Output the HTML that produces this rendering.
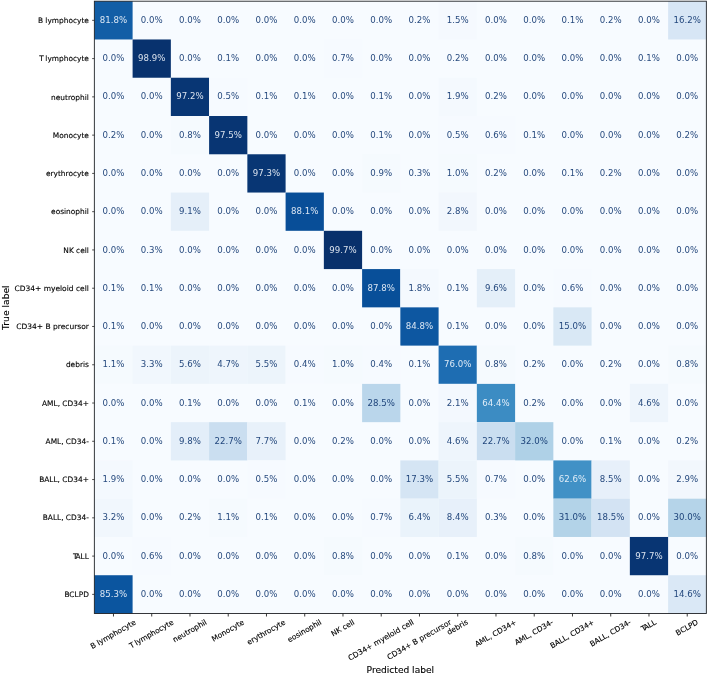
<!DOCTYPE html>
<html lang="en"><head><meta charset="utf-8"><title>Confusion matrix</title>
<style>
html,body{margin:0;padding:0;background:#fff;}
body{width:708px;height:674px;overflow:hidden;}
svg{display:block;font-family:"DejaVu Sans","Liberation Sans",sans-serif;}
</style></head><body>
<svg width="708" height="674" viewBox="0 0 708 674">
<rect width="708" height="674" fill="#fff"/>
<rect x="94.35" y="1.20" width="612.00" height="612.30" fill="#f7fbff"/>
<g shape-rendering="auto">
<rect x="94.35" y="1.20" width="38.25" height="38.27" fill="#125ea6"/>
<rect x="438.60" y="1.20" width="38.25" height="38.27" fill="#f5f9fe"/>
<rect x="668.10" y="1.20" width="38.25" height="38.27" fill="#d7e6f5"/>
<rect x="132.60" y="39.47" width="38.25" height="38.27" fill="#08326e"/>
<rect x="323.85" y="39.47" width="38.25" height="38.27" fill="#f6faff"/>
<rect x="170.85" y="77.74" width="38.25" height="38.27" fill="#083674"/>
<rect x="209.10" y="77.74" width="38.25" height="38.27" fill="#f6faff"/>
<rect x="438.60" y="77.74" width="38.25" height="38.27" fill="#f4f9fe"/>
<rect x="170.85" y="116.01" width="38.25" height="38.27" fill="#f5fafe"/>
<rect x="209.10" y="116.01" width="38.25" height="38.27" fill="#083573"/>
<rect x="438.60" y="116.01" width="38.25" height="38.27" fill="#f6faff"/>
<rect x="476.85" y="116.01" width="38.25" height="38.27" fill="#f6faff"/>
<rect x="247.35" y="154.27" width="38.25" height="38.27" fill="#083674"/>
<rect x="362.10" y="154.27" width="38.25" height="38.27" fill="#f5fafe"/>
<rect x="438.60" y="154.27" width="38.25" height="38.27" fill="#f5fafe"/>
<rect x="170.85" y="192.54" width="38.25" height="38.27" fill="#e5eff9"/>
<rect x="285.60" y="192.54" width="38.25" height="38.27" fill="#084e98"/>
<rect x="438.60" y="192.54" width="38.25" height="38.27" fill="#f2f7fd"/>
<rect x="323.85" y="230.81" width="38.25" height="38.27" fill="#08306b"/>
<rect x="362.10" y="269.08" width="38.25" height="38.27" fill="#084f99"/>
<rect x="400.35" y="269.08" width="38.25" height="38.27" fill="#f4f9fe"/>
<rect x="476.85" y="269.08" width="38.25" height="38.27" fill="#e4eff9"/>
<rect x="553.35" y="269.08" width="38.25" height="38.27" fill="#f6faff"/>
<rect x="400.35" y="307.35" width="38.25" height="38.27" fill="#0d57a1"/>
<rect x="553.35" y="307.35" width="38.25" height="38.27" fill="#d9e8f5"/>
<rect x="94.35" y="345.62" width="38.25" height="38.27" fill="#f5fafe"/>
<rect x="132.60" y="345.62" width="38.25" height="38.27" fill="#f1f7fd"/>
<rect x="170.85" y="345.62" width="38.25" height="38.27" fill="#ecf4fb"/>
<rect x="209.10" y="345.62" width="38.25" height="38.27" fill="#eef5fc"/>
<rect x="247.35" y="345.62" width="38.25" height="38.27" fill="#ecf4fb"/>
<rect x="285.60" y="345.62" width="38.25" height="38.27" fill="#f6faff"/>
<rect x="323.85" y="345.62" width="38.25" height="38.27" fill="#f5fafe"/>
<rect x="362.10" y="345.62" width="38.25" height="38.27" fill="#f6faff"/>
<rect x="438.60" y="345.62" width="38.25" height="38.27" fill="#1e6db2"/>
<rect x="476.85" y="345.62" width="38.25" height="38.27" fill="#f5fafe"/>
<rect x="668.10" y="345.62" width="38.25" height="38.27" fill="#f5fafe"/>
<rect x="362.10" y="383.89" width="38.25" height="38.27" fill="#bad6eb"/>
<rect x="438.60" y="383.89" width="38.25" height="38.27" fill="#f3f8fe"/>
<rect x="476.85" y="383.89" width="38.25" height="38.27" fill="#3c8cc3"/>
<rect x="629.85" y="383.89" width="38.25" height="38.27" fill="#eef5fc"/>
<rect x="170.85" y="422.16" width="38.25" height="38.27" fill="#e3eef9"/>
<rect x="209.10" y="422.16" width="38.25" height="38.27" fill="#cadef0"/>
<rect x="247.35" y="422.16" width="38.25" height="38.27" fill="#e8f1fa"/>
<rect x="438.60" y="422.16" width="38.25" height="38.27" fill="#eef5fc"/>
<rect x="476.85" y="422.16" width="38.25" height="38.27" fill="#cadef0"/>
<rect x="515.10" y="422.16" width="38.25" height="38.27" fill="#afd1e7"/>
<rect x="94.35" y="460.42" width="38.25" height="38.27" fill="#f4f9fe"/>
<rect x="247.35" y="460.42" width="38.25" height="38.27" fill="#f6faff"/>
<rect x="400.35" y="460.42" width="38.25" height="38.27" fill="#d5e5f4"/>
<rect x="438.60" y="460.42" width="38.25" height="38.27" fill="#ecf4fb"/>
<rect x="476.85" y="460.42" width="38.25" height="38.27" fill="#f6faff"/>
<rect x="553.35" y="460.42" width="38.25" height="38.27" fill="#4191c6"/>
<rect x="591.60" y="460.42" width="38.25" height="38.27" fill="#e7f0fa"/>
<rect x="668.10" y="460.42" width="38.25" height="38.27" fill="#f2f7fd"/>
<rect x="94.35" y="498.69" width="38.25" height="38.27" fill="#f1f7fd"/>
<rect x="209.10" y="498.69" width="38.25" height="38.27" fill="#f5fafe"/>
<rect x="362.10" y="498.69" width="38.25" height="38.27" fill="#f6faff"/>
<rect x="400.35" y="498.69" width="38.25" height="38.27" fill="#eaf3fb"/>
<rect x="438.60" y="498.69" width="38.25" height="38.27" fill="#e7f0fa"/>
<rect x="553.35" y="498.69" width="38.25" height="38.27" fill="#b3d3e8"/>
<rect x="591.60" y="498.69" width="38.25" height="38.27" fill="#d3e3f3"/>
<rect x="668.10" y="498.69" width="38.25" height="38.27" fill="#b5d4e9"/>
<rect x="132.60" y="536.96" width="38.25" height="38.27" fill="#f6faff"/>
<rect x="323.85" y="536.96" width="38.25" height="38.27" fill="#f5fafe"/>
<rect x="515.10" y="536.96" width="38.25" height="38.27" fill="#f5fafe"/>
<rect x="629.85" y="536.96" width="38.25" height="38.27" fill="#083573"/>
<rect x="94.35" y="575.23" width="38.25" height="38.27" fill="#0b559f"/>
<rect x="668.10" y="575.23" width="38.25" height="38.27" fill="#dae8f6"/>
</g>
<g font-size="8.60" text-anchor="middle" fill-opacity="0.88">
<text x="113.47" y="22.95" fill="#f7fbff">81.8%</text>
<text x="151.72" y="22.95" fill="#08306b">0.0%</text>
<text x="189.97" y="22.95" fill="#08306b">0.0%</text>
<text x="228.22" y="22.95" fill="#08306b">0.0%</text>
<text x="266.48" y="22.95" fill="#08306b">0.0%</text>
<text x="304.73" y="22.95" fill="#08306b">0.0%</text>
<text x="342.98" y="22.95" fill="#08306b">0.0%</text>
<text x="381.23" y="22.95" fill="#08306b">0.0%</text>
<text x="419.48" y="22.95" fill="#08306b">0.2%</text>
<text x="457.73" y="22.95" fill="#08306b">1.5%</text>
<text x="495.98" y="22.95" fill="#08306b">0.0%</text>
<text x="534.23" y="22.95" fill="#08306b">0.0%</text>
<text x="572.48" y="22.95" fill="#08306b">0.1%</text>
<text x="610.73" y="22.95" fill="#08306b">0.2%</text>
<text x="648.98" y="22.95" fill="#08306b">0.0%</text>
<text x="687.23" y="22.95" fill="#08306b">16.2%</text>
<text x="113.47" y="61.22" fill="#08306b">0.0%</text>
<text x="151.72" y="61.22" fill="#f7fbff">98.9%</text>
<text x="189.97" y="61.22" fill="#08306b">0.0%</text>
<text x="228.22" y="61.22" fill="#08306b">0.1%</text>
<text x="266.48" y="61.22" fill="#08306b">0.0%</text>
<text x="304.73" y="61.22" fill="#08306b">0.0%</text>
<text x="342.98" y="61.22" fill="#08306b">0.7%</text>
<text x="381.23" y="61.22" fill="#08306b">0.0%</text>
<text x="419.48" y="61.22" fill="#08306b">0.0%</text>
<text x="457.73" y="61.22" fill="#08306b">0.2%</text>
<text x="495.98" y="61.22" fill="#08306b">0.0%</text>
<text x="534.23" y="61.22" fill="#08306b">0.0%</text>
<text x="572.48" y="61.22" fill="#08306b">0.0%</text>
<text x="610.73" y="61.22" fill="#08306b">0.0%</text>
<text x="648.98" y="61.22" fill="#08306b">0.1%</text>
<text x="687.23" y="61.22" fill="#08306b">0.0%</text>
<text x="113.47" y="99.49" fill="#08306b">0.0%</text>
<text x="151.72" y="99.49" fill="#08306b">0.0%</text>
<text x="189.97" y="99.49" fill="#f7fbff">97.2%</text>
<text x="228.22" y="99.49" fill="#08306b">0.5%</text>
<text x="266.48" y="99.49" fill="#08306b">0.1%</text>
<text x="304.73" y="99.49" fill="#08306b">0.1%</text>
<text x="342.98" y="99.49" fill="#08306b">0.0%</text>
<text x="381.23" y="99.49" fill="#08306b">0.1%</text>
<text x="419.48" y="99.49" fill="#08306b">0.0%</text>
<text x="457.73" y="99.49" fill="#08306b">1.9%</text>
<text x="495.98" y="99.49" fill="#08306b">0.2%</text>
<text x="534.23" y="99.49" fill="#08306b">0.0%</text>
<text x="572.48" y="99.49" fill="#08306b">0.0%</text>
<text x="610.73" y="99.49" fill="#08306b">0.0%</text>
<text x="648.98" y="99.49" fill="#08306b">0.0%</text>
<text x="687.23" y="99.49" fill="#08306b">0.0%</text>
<text x="113.47" y="137.76" fill="#08306b">0.2%</text>
<text x="151.72" y="137.76" fill="#08306b">0.0%</text>
<text x="189.97" y="137.76" fill="#08306b">0.8%</text>
<text x="228.22" y="137.76" fill="#f7fbff">97.5%</text>
<text x="266.48" y="137.76" fill="#08306b">0.0%</text>
<text x="304.73" y="137.76" fill="#08306b">0.0%</text>
<text x="342.98" y="137.76" fill="#08306b">0.0%</text>
<text x="381.23" y="137.76" fill="#08306b">0.1%</text>
<text x="419.48" y="137.76" fill="#08306b">0.0%</text>
<text x="457.73" y="137.76" fill="#08306b">0.5%</text>
<text x="495.98" y="137.76" fill="#08306b">0.6%</text>
<text x="534.23" y="137.76" fill="#08306b">0.1%</text>
<text x="572.48" y="137.76" fill="#08306b">0.0%</text>
<text x="610.73" y="137.76" fill="#08306b">0.0%</text>
<text x="648.98" y="137.76" fill="#08306b">0.0%</text>
<text x="687.23" y="137.76" fill="#08306b">0.2%</text>
<text x="113.47" y="176.03" fill="#08306b">0.0%</text>
<text x="151.72" y="176.03" fill="#08306b">0.0%</text>
<text x="189.97" y="176.03" fill="#08306b">0.0%</text>
<text x="228.22" y="176.03" fill="#08306b">0.0%</text>
<text x="266.48" y="176.03" fill="#f7fbff">97.3%</text>
<text x="304.73" y="176.03" fill="#08306b">0.0%</text>
<text x="342.98" y="176.03" fill="#08306b">0.0%</text>
<text x="381.23" y="176.03" fill="#08306b">0.9%</text>
<text x="419.48" y="176.03" fill="#08306b">0.3%</text>
<text x="457.73" y="176.03" fill="#08306b">1.0%</text>
<text x="495.98" y="176.03" fill="#08306b">0.2%</text>
<text x="534.23" y="176.03" fill="#08306b">0.0%</text>
<text x="572.48" y="176.03" fill="#08306b">0.1%</text>
<text x="610.73" y="176.03" fill="#08306b">0.2%</text>
<text x="648.98" y="176.03" fill="#08306b">0.0%</text>
<text x="687.23" y="176.03" fill="#08306b">0.0%</text>
<text x="113.47" y="214.30" fill="#08306b">0.0%</text>
<text x="151.72" y="214.30" fill="#08306b">0.0%</text>
<text x="189.97" y="214.30" fill="#08306b">9.1%</text>
<text x="228.22" y="214.30" fill="#08306b">0.0%</text>
<text x="266.48" y="214.30" fill="#08306b">0.0%</text>
<text x="304.73" y="214.30" fill="#f7fbff">88.1%</text>
<text x="342.98" y="214.30" fill="#08306b">0.0%</text>
<text x="381.23" y="214.30" fill="#08306b">0.0%</text>
<text x="419.48" y="214.30" fill="#08306b">0.0%</text>
<text x="457.73" y="214.30" fill="#08306b">2.8%</text>
<text x="495.98" y="214.30" fill="#08306b">0.0%</text>
<text x="534.23" y="214.30" fill="#08306b">0.0%</text>
<text x="572.48" y="214.30" fill="#08306b">0.0%</text>
<text x="610.73" y="214.30" fill="#08306b">0.0%</text>
<text x="648.98" y="214.30" fill="#08306b">0.0%</text>
<text x="687.23" y="214.30" fill="#08306b">0.0%</text>
<text x="113.47" y="252.57" fill="#08306b">0.0%</text>
<text x="151.72" y="252.57" fill="#08306b">0.3%</text>
<text x="189.97" y="252.57" fill="#08306b">0.0%</text>
<text x="228.22" y="252.57" fill="#08306b">0.0%</text>
<text x="266.48" y="252.57" fill="#08306b">0.0%</text>
<text x="304.73" y="252.57" fill="#08306b">0.0%</text>
<text x="342.98" y="252.57" fill="#f7fbff">99.7%</text>
<text x="381.23" y="252.57" fill="#08306b">0.0%</text>
<text x="419.48" y="252.57" fill="#08306b">0.0%</text>
<text x="457.73" y="252.57" fill="#08306b">0.0%</text>
<text x="495.98" y="252.57" fill="#08306b">0.0%</text>
<text x="534.23" y="252.57" fill="#08306b">0.0%</text>
<text x="572.48" y="252.57" fill="#08306b">0.0%</text>
<text x="610.73" y="252.57" fill="#08306b">0.0%</text>
<text x="648.98" y="252.57" fill="#08306b">0.0%</text>
<text x="687.23" y="252.57" fill="#08306b">0.0%</text>
<text x="113.47" y="290.84" fill="#08306b">0.1%</text>
<text x="151.72" y="290.84" fill="#08306b">0.1%</text>
<text x="189.97" y="290.84" fill="#08306b">0.0%</text>
<text x="228.22" y="290.84" fill="#08306b">0.0%</text>
<text x="266.48" y="290.84" fill="#08306b">0.0%</text>
<text x="304.73" y="290.84" fill="#08306b">0.0%</text>
<text x="342.98" y="290.84" fill="#08306b">0.0%</text>
<text x="381.23" y="290.84" fill="#f7fbff">87.8%</text>
<text x="419.48" y="290.84" fill="#08306b">1.8%</text>
<text x="457.73" y="290.84" fill="#08306b">0.1%</text>
<text x="495.98" y="290.84" fill="#08306b">9.6%</text>
<text x="534.23" y="290.84" fill="#08306b">0.0%</text>
<text x="572.48" y="290.84" fill="#08306b">0.6%</text>
<text x="610.73" y="290.84" fill="#08306b">0.0%</text>
<text x="648.98" y="290.84" fill="#08306b">0.0%</text>
<text x="687.23" y="290.84" fill="#08306b">0.0%</text>
<text x="113.47" y="329.10" fill="#08306b">0.1%</text>
<text x="151.72" y="329.10" fill="#08306b">0.0%</text>
<text x="189.97" y="329.10" fill="#08306b">0.0%</text>
<text x="228.22" y="329.10" fill="#08306b">0.0%</text>
<text x="266.48" y="329.10" fill="#08306b">0.0%</text>
<text x="304.73" y="329.10" fill="#08306b">0.0%</text>
<text x="342.98" y="329.10" fill="#08306b">0.0%</text>
<text x="381.23" y="329.10" fill="#08306b">0.0%</text>
<text x="419.48" y="329.10" fill="#f7fbff">84.8%</text>
<text x="457.73" y="329.10" fill="#08306b">0.1%</text>
<text x="495.98" y="329.10" fill="#08306b">0.0%</text>
<text x="534.23" y="329.10" fill="#08306b">0.0%</text>
<text x="572.48" y="329.10" fill="#08306b">15.0%</text>
<text x="610.73" y="329.10" fill="#08306b">0.0%</text>
<text x="648.98" y="329.10" fill="#08306b">0.0%</text>
<text x="687.23" y="329.10" fill="#08306b">0.0%</text>
<text x="113.47" y="367.37" fill="#08306b">1.1%</text>
<text x="151.72" y="367.37" fill="#08306b">3.3%</text>
<text x="189.97" y="367.37" fill="#08306b">5.6%</text>
<text x="228.22" y="367.37" fill="#08306b">4.7%</text>
<text x="266.48" y="367.37" fill="#08306b">5.5%</text>
<text x="304.73" y="367.37" fill="#08306b">0.4%</text>
<text x="342.98" y="367.37" fill="#08306b">1.0%</text>
<text x="381.23" y="367.37" fill="#08306b">0.4%</text>
<text x="419.48" y="367.37" fill="#08306b">0.1%</text>
<text x="457.73" y="367.37" fill="#f7fbff">76.0%</text>
<text x="495.98" y="367.37" fill="#08306b">0.8%</text>
<text x="534.23" y="367.37" fill="#08306b">0.2%</text>
<text x="572.48" y="367.37" fill="#08306b">0.0%</text>
<text x="610.73" y="367.37" fill="#08306b">0.2%</text>
<text x="648.98" y="367.37" fill="#08306b">0.0%</text>
<text x="687.23" y="367.37" fill="#08306b">0.8%</text>
<text x="113.47" y="405.64" fill="#08306b">0.0%</text>
<text x="151.72" y="405.64" fill="#08306b">0.0%</text>
<text x="189.97" y="405.64" fill="#08306b">0.1%</text>
<text x="228.22" y="405.64" fill="#08306b">0.0%</text>
<text x="266.48" y="405.64" fill="#08306b">0.0%</text>
<text x="304.73" y="405.64" fill="#08306b">0.1%</text>
<text x="342.98" y="405.64" fill="#08306b">0.0%</text>
<text x="381.23" y="405.64" fill="#08306b">28.5%</text>
<text x="419.48" y="405.64" fill="#08306b">0.0%</text>
<text x="457.73" y="405.64" fill="#08306b">2.1%</text>
<text x="495.98" y="405.64" fill="#f7fbff">64.4%</text>
<text x="534.23" y="405.64" fill="#08306b">0.2%</text>
<text x="572.48" y="405.64" fill="#08306b">0.0%</text>
<text x="610.73" y="405.64" fill="#08306b">0.0%</text>
<text x="648.98" y="405.64" fill="#08306b">4.6%</text>
<text x="687.23" y="405.64" fill="#08306b">0.0%</text>
<text x="113.47" y="443.91" fill="#08306b">0.1%</text>
<text x="151.72" y="443.91" fill="#08306b">0.0%</text>
<text x="189.97" y="443.91" fill="#08306b">9.8%</text>
<text x="228.22" y="443.91" fill="#08306b">22.7%</text>
<text x="266.48" y="443.91" fill="#08306b">7.7%</text>
<text x="304.73" y="443.91" fill="#08306b">0.0%</text>
<text x="342.98" y="443.91" fill="#08306b">0.2%</text>
<text x="381.23" y="443.91" fill="#08306b">0.0%</text>
<text x="419.48" y="443.91" fill="#08306b">0.0%</text>
<text x="457.73" y="443.91" fill="#08306b">4.6%</text>
<text x="495.98" y="443.91" fill="#08306b">22.7%</text>
<text x="534.23" y="443.91" fill="#08306b">32.0%</text>
<text x="572.48" y="443.91" fill="#08306b">0.0%</text>
<text x="610.73" y="443.91" fill="#08306b">0.1%</text>
<text x="648.98" y="443.91" fill="#08306b">0.0%</text>
<text x="687.23" y="443.91" fill="#08306b">0.2%</text>
<text x="113.47" y="482.18" fill="#08306b">1.9%</text>
<text x="151.72" y="482.18" fill="#08306b">0.0%</text>
<text x="189.97" y="482.18" fill="#08306b">0.0%</text>
<text x="228.22" y="482.18" fill="#08306b">0.0%</text>
<text x="266.48" y="482.18" fill="#08306b">0.5%</text>
<text x="304.73" y="482.18" fill="#08306b">0.0%</text>
<text x="342.98" y="482.18" fill="#08306b">0.0%</text>
<text x="381.23" y="482.18" fill="#08306b">0.0%</text>
<text x="419.48" y="482.18" fill="#08306b">17.3%</text>
<text x="457.73" y="482.18" fill="#08306b">5.5%</text>
<text x="495.98" y="482.18" fill="#08306b">0.7%</text>
<text x="534.23" y="482.18" fill="#08306b">0.0%</text>
<text x="572.48" y="482.18" fill="#f7fbff">62.6%</text>
<text x="610.73" y="482.18" fill="#08306b">8.5%</text>
<text x="648.98" y="482.18" fill="#08306b">0.0%</text>
<text x="687.23" y="482.18" fill="#08306b">2.9%</text>
<text x="113.47" y="520.45" fill="#08306b">3.2%</text>
<text x="151.72" y="520.45" fill="#08306b">0.0%</text>
<text x="189.97" y="520.45" fill="#08306b">0.2%</text>
<text x="228.22" y="520.45" fill="#08306b">1.1%</text>
<text x="266.48" y="520.45" fill="#08306b">0.1%</text>
<text x="304.73" y="520.45" fill="#08306b">0.0%</text>
<text x="342.98" y="520.45" fill="#08306b">0.0%</text>
<text x="381.23" y="520.45" fill="#08306b">0.7%</text>
<text x="419.48" y="520.45" fill="#08306b">6.4%</text>
<text x="457.73" y="520.45" fill="#08306b">8.4%</text>
<text x="495.98" y="520.45" fill="#08306b">0.3%</text>
<text x="534.23" y="520.45" fill="#08306b">0.0%</text>
<text x="572.48" y="520.45" fill="#08306b">31.0%</text>
<text x="610.73" y="520.45" fill="#08306b">18.5%</text>
<text x="648.98" y="520.45" fill="#08306b">0.0%</text>
<text x="687.23" y="520.45" fill="#08306b">30.0%</text>
<text x="113.47" y="558.72" fill="#08306b">0.0%</text>
<text x="151.72" y="558.72" fill="#08306b">0.6%</text>
<text x="189.97" y="558.72" fill="#08306b">0.0%</text>
<text x="228.22" y="558.72" fill="#08306b">0.0%</text>
<text x="266.48" y="558.72" fill="#08306b">0.0%</text>
<text x="304.73" y="558.72" fill="#08306b">0.0%</text>
<text x="342.98" y="558.72" fill="#08306b">0.8%</text>
<text x="381.23" y="558.72" fill="#08306b">0.0%</text>
<text x="419.48" y="558.72" fill="#08306b">0.0%</text>
<text x="457.73" y="558.72" fill="#08306b">0.1%</text>
<text x="495.98" y="558.72" fill="#08306b">0.0%</text>
<text x="534.23" y="558.72" fill="#08306b">0.8%</text>
<text x="572.48" y="558.72" fill="#08306b">0.0%</text>
<text x="610.73" y="558.72" fill="#08306b">0.0%</text>
<text x="648.98" y="558.72" fill="#f7fbff">97.7%</text>
<text x="687.23" y="558.72" fill="#08306b">0.0%</text>
<text x="113.47" y="596.99" fill="#f7fbff">85.3%</text>
<text x="151.72" y="596.99" fill="#08306b">0.0%</text>
<text x="189.97" y="596.99" fill="#08306b">0.0%</text>
<text x="228.22" y="596.99" fill="#08306b">0.0%</text>
<text x="266.48" y="596.99" fill="#08306b">0.0%</text>
<text x="304.73" y="596.99" fill="#08306b">0.0%</text>
<text x="342.98" y="596.99" fill="#08306b">0.0%</text>
<text x="381.23" y="596.99" fill="#08306b">0.0%</text>
<text x="419.48" y="596.99" fill="#08306b">0.0%</text>
<text x="457.73" y="596.99" fill="#08306b">0.0%</text>
<text x="495.98" y="596.99" fill="#08306b">0.0%</text>
<text x="534.23" y="596.99" fill="#08306b">0.0%</text>
<text x="572.48" y="596.99" fill="#08306b">0.0%</text>
<text x="610.73" y="596.99" fill="#08306b">0.0%</text>
<text x="648.98" y="596.99" fill="#08306b">0.0%</text>
<text x="687.23" y="596.99" fill="#08306b">14.6%</text>
</g>
<rect x="94.35" y="1.20" width="612.00" height="612.30" fill="none" stroke="#1f2226" stroke-width="0.9"/>
<g stroke="#222" stroke-width="0.8">
<line x1="92.15" y1="20.33" x2="94.35" y2="20.33"/>
<line x1="113.47" y1="613.50" x2="113.47" y2="616.50" stroke-width="0.9"/>
<line x1="92.15" y1="58.60" x2="94.35" y2="58.60"/>
<line x1="151.72" y1="613.50" x2="151.72" y2="616.50" stroke-width="0.9"/>
<line x1="92.15" y1="96.87" x2="94.35" y2="96.87"/>
<line x1="189.97" y1="613.50" x2="189.97" y2="616.50" stroke-width="0.9"/>
<line x1="92.15" y1="135.14" x2="94.35" y2="135.14"/>
<line x1="228.22" y1="613.50" x2="228.22" y2="616.50" stroke-width="0.9"/>
<line x1="92.15" y1="173.41" x2="94.35" y2="173.41"/>
<line x1="266.48" y1="613.50" x2="266.48" y2="616.50" stroke-width="0.9"/>
<line x1="92.15" y1="211.68" x2="94.35" y2="211.68"/>
<line x1="304.73" y1="613.50" x2="304.73" y2="616.50" stroke-width="0.9"/>
<line x1="92.15" y1="249.95" x2="94.35" y2="249.95"/>
<line x1="342.98" y1="613.50" x2="342.98" y2="616.50" stroke-width="0.9"/>
<line x1="92.15" y1="288.22" x2="94.35" y2="288.22"/>
<line x1="381.23" y1="613.50" x2="381.23" y2="616.50" stroke-width="0.9"/>
<line x1="92.15" y1="326.48" x2="94.35" y2="326.48"/>
<line x1="419.48" y1="613.50" x2="419.48" y2="616.50" stroke-width="0.9"/>
<line x1="92.15" y1="364.75" x2="94.35" y2="364.75"/>
<line x1="457.73" y1="613.50" x2="457.73" y2="616.50" stroke-width="0.9"/>
<line x1="92.15" y1="403.02" x2="94.35" y2="403.02"/>
<line x1="495.98" y1="613.50" x2="495.98" y2="616.50" stroke-width="0.9"/>
<line x1="92.15" y1="441.29" x2="94.35" y2="441.29"/>
<line x1="534.23" y1="613.50" x2="534.23" y2="616.50" stroke-width="0.9"/>
<line x1="92.15" y1="479.56" x2="94.35" y2="479.56"/>
<line x1="572.48" y1="613.50" x2="572.48" y2="616.50" stroke-width="0.9"/>
<line x1="92.15" y1="517.83" x2="94.35" y2="517.83"/>
<line x1="610.73" y1="613.50" x2="610.73" y2="616.50" stroke-width="0.9"/>
<line x1="92.15" y1="556.10" x2="94.35" y2="556.10"/>
<line x1="648.98" y1="613.50" x2="648.98" y2="616.50" stroke-width="0.9"/>
<line x1="92.15" y1="594.37" x2="94.35" y2="594.37"/>
<line x1="687.23" y1="613.50" x2="687.23" y2="616.50" stroke-width="0.9"/>
</g>
<g font-size="7.42" text-anchor="end" fill="#000" stroke="#000" stroke-width="0.12">
<text x="88.85" y="22.99">B lymphocyte</text>
<text x="88.85" y="61.26">T<tspan dx="-0.90"> lymphocyte</tspan></text>
<text x="88.85" y="99.53">neutrophil</text>
<text x="88.85" y="137.80">Monocyte</text>
<text x="88.85" y="176.07">erythrocyte</text>
<text x="88.85" y="214.34">eosinophil</text>
<text x="88.85" y="252.61">NK cell</text>
<text x="88.85" y="290.87" font-size="7.50">CD34+ myeloid cell</text>
<text x="88.85" y="329.14" font-size="7.50">CD34+ B precursor</text>
<text x="88.85" y="367.41">debris</text>
<text x="88.85" y="405.68">AML, CD34+</text>
<text x="88.85" y="443.95">AML, CD34-</text>
<text x="88.85" y="482.22">BALL, CD34+</text>
<text x="88.85" y="520.49">BALL, CD34-</text>
<text x="88.85" y="558.76">T<tspan dx="-1.50">ALL</tspan></text>
<text x="88.85" y="597.02">BCLPD</text>
</g>
<g font-size="7.42" fill="#000" stroke="#000" stroke-width="0.12">
<text transform="translate(92.36,649.12) rotate(-30)">B lymphocyte</text>
<text transform="translate(131.24,648.39) rotate(-30)">T<tspan dx="-0.90"> lymphocyte</tspan></text>
<text transform="translate(174.57,642.53) rotate(-30)">neutrophil</text>
<text transform="translate(213.56,641.67) rotate(-30)">Monocyte</text>
<text transform="translate(248.84,645.11) rotate(-30)">erythrocyte</text>
<text transform="translate(289.33,642.51) rotate(-30)">eosinophil</text>
<text transform="translate(332.89,636.38) rotate(-30)">NK cell</text>
<text transform="translate(349.99,660.80) rotate(-30)" font-size="7.50">CD34+ myeloid cell</text>
<text transform="translate(389.02,659.90) rotate(-30)" font-size="7.50">CD34+ B precursor</text>
<text transform="translate(448.76,635.09) rotate(-30)">debris</text>
<text transform="translate(476.65,647.05) rotate(-30)">AML, CD34+</text>
<text transform="translate(516.44,645.28) rotate(-30)">AML, CD34-</text>
<text transform="translate(551.93,648.46) rotate(-30)">BALL, CD34+</text>
<text transform="translate(591.71,646.69) rotate(-30)">BALL, CD34-</text>
<text transform="translate(643.11,631.51) rotate(-30)">T<tspan dx="-1.50">ALL</tspan></text>
<text transform="translate(677.61,635.84) rotate(-30)">BCLPD</text>
</g>
<text x="400.35" y="672.80" font-size="9.08" text-anchor="middle" fill="#000" stroke="#000" stroke-width="0.12">Predicted label</text>
<text transform="translate(8.70,307.65) rotate(-90)" font-size="9.20" text-anchor="middle" fill="#000" stroke="#000" stroke-width="0.12">True label</text>
</svg>
</body></html>
